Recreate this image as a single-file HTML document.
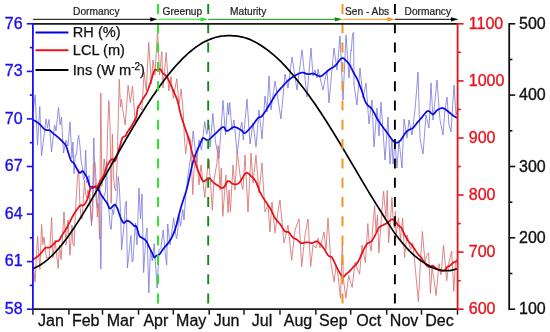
<!DOCTYPE html>
<html><head><meta charset="utf-8"><title>RH LCL Ins</title>
<style>html,body{margin:0;padding:0;background:#fff;width:550px;height:332px;overflow:hidden}svg{display:block}</style>
</head><body>
<svg width="550" height="332" viewBox="0 0 550 332">
<rect width="550" height="332" fill="#fff"/>
<polyline fill="none" stroke="#7676de" stroke-width="0.8" stroke-linejoin="round" points="33.0,112.0 35.2,95.0 37.5,145.0 39.8,106.5 41.5,156.0 44.0,136.0 46.0,119.0 47.5,128.0 49.0,119.5 51.5,152.0 54.6,125.0 56.0,131.0 58.5,107.5 60.0,125.0 61.5,117.0 63.5,153.0 66.0,140.0 68.0,146.0 70.0,122.0 72.0,158.0 72.9,142.0 74.1,173.7 75.2,155.0 76.4,155.0 77.6,141.0 78.7,135.3 79.9,145.5 81.0,159.6 82.2,166.3 83.4,179.5 84.5,178.5 85.7,150.0 86.8,183.1 88.0,177.0 89.2,175.5 90.3,204.9 91.5,225.7 92.6,200.8 93.8,138.0 95.0,180.0 96.1,198.8 97.3,208.2 98.4,197.0 99.6,180.2 100.8,269.0 101.9,197.5 103.1,197.7 104.2,195.9 105.4,191.6 106.6,161.5 107.7,202.2 108.9,209.7 110.0,224.7 111.2,229.4 112.4,209.4 113.5,214.5 114.7,203.7 115.8,205.8 117.0,197.9 118.2,176.7 119.3,186.7 120.5,211.3 121.6,250.0 122.8,237.0 124.0,225.9 125.1,206.7 126.3,201.0 127.4,268.0 128.6,257.3 129.8,246.0 130.9,235.5 132.1,262.0 133.0,261.0 135.3,223.0 137.0,245.0 139.0,188.0 140.5,219.0 142.0,194.0 143.6,272.6 146.0,235.0 147.0,228.0 148.8,292.8 150.5,250.0 152.3,261.0 154.2,243.7 157.1,288.0 159.0,250.0 161.0,247.6 163.2,230.0 165.4,255.0 166.7,264.9 167.7,224.0 170.0,245.0 173.7,217.9 176.4,238.9 177.5,233.7 179.0,215.0 180.5,226.2 182.8,209.6 184.0,220.0 185.8,194.5 188.0,175.0 191.0,155.0 193.2,130.9 196.6,163.2 199.0,140.0 201.5,150.0 204.7,121.4 206.7,134.3 209.0,125.0 210.1,146.9 212.8,113.3 215.5,142.0 218.9,159.1 221.0,130.0 223.0,100.4 225.5,135.0 227.7,103.1 228.7,115.0 229.7,102.5 232.0,130.0 234.0,120.0 237.2,153.7 240.0,130.0 241.9,122.1 243.3,140.0 244.0,132.0 247.0,99.0 250.0,144.0 253.0,123.0 256.0,147.0 259.0,110.0 262.0,139.0 265.0,96.0 267.0,112.0 269.0,76.0 271.0,110.0 275.0,81.0 278.0,100.0 281.0,119.0 285.0,74.0 288.0,88.0 292.0,57.0 297.0,90.0 302.0,50.0 307.0,97.0 311.0,48.0 313.0,76.0 315.0,70.0 317.0,78.0 318.0,69.0 321.0,82.0 323.0,90.0 327.0,70.0 329.0,103.0 331.0,80.0 334.0,48.0 337.0,70.0 340.0,36.0 343.0,100.0 346.0,35.0 349.0,78.0 351.0,50.0 351.3,51.0 352.5,34.0 353.6,32.3 354.0,85.0 357.0,105.0 360.0,68.0 363.0,98.0 366.0,83.0 369.0,124.0 372.0,100.0 374.0,147.0 377.0,108.0 379.0,136.0 381.0,102.0 385.0,160.0 388.0,117.0 390.0,164.0 392.0,140.0 393.0,164.0 395.0,143.0 397.0,168.0 399.0,140.0 402.0,168.0 404.0,119.0 407.0,138.0 409.0,120.0 412.0,135.0 415.0,110.0 418.0,72.0 420.0,138.0 423.0,154.0 426.0,115.0 429.0,128.0 431.0,83.0 433.0,120.0 435.0,100.0 437.0,80.0 440.0,120.0 443.0,135.0 445.0,110.0 447.0,97.0 449.0,125.0 451.0,132.0 454.0,85.0 456.0,115.0 457.5,110.0"/>
<polyline fill="none" stroke="#d87070" stroke-width="0.85" stroke-linejoin="round" points="33.0,262.0 35.1,282.0 37.5,236.0 39.9,269.5 41.6,224.5 42.8,244.6 44.0,237.0 46.4,258.0 49.3,257.0 51.7,217.4 52.9,258.0 55.0,240.0 58.2,268.3 59.5,245.0 61.1,259.5 64.0,212.0 66.0,245.0 68.0,220.0 70.0,255.3 72.0,225.0 72.9,244.2 74.1,246.0 75.2,216.5 76.4,194.6 77.6,176.5 78.7,169.5 79.9,204.3 81.0,218.4 82.2,218.8 83.4,198.8 84.5,180.2 85.7,194.6 86.8,197.8 88.0,189.9 89.2,196.3 90.3,208.6 91.5,222.5 92.6,217.4 93.8,166.0 95.0,162.0 96.1,181.2 97.3,217.1 98.4,203.3 99.6,239.2 100.8,93.0 101.9,186.3 103.1,173.6 104.2,158.9 105.4,169.8 106.6,171.1 107.7,127.5 108.9,100.7 110.0,124.1 111.2,203.3 112.4,134.0 113.5,177.0 114.7,188.4 115.8,190.8 117.0,166.2 118.2,121.3 119.3,79.1 120.5,107.0 121.6,99.4 122.3,107.0 125.2,125.0 128.1,85.3 130.3,102.7 132.5,86.0 135.4,125.0 138.0,106.0 141.9,110.0 144.1,72.2 146.3,91.0 148.7,42.2 151.4,84.0 153.0,60.0 155.0,75.0 157.6,29.0 159.5,75.0 161.8,51.6 163.0,88.0 166.2,52.4 168.8,91.0 171.0,76.5 173.2,98.4 176.8,78.7 179.0,104.2 181.2,88.9 183.4,115.0 184.3,136.5 185.7,153.7 188.0,135.0 190.5,139.5 192.8,194.6 194.0,170.0 196.6,155.0 199.0,185.0 201.0,165.0 204.8,197.6 207.4,170.0 209.0,160.0 212.3,210.3 214.0,180.0 216.9,163.2 218.2,145.5 220.0,190.0 221.3,168.0 222.8,216.4 225.9,175.0 228.1,212.6 229.0,190.0 230.4,211.8 233.0,165.0 235.0,190.0 237.2,151.0 240.0,175.0 242.4,189.3 243.0,189.0 245.0,155.0 248.0,212.0 251.0,153.0 253.0,183.0 256.0,155.0 259.0,193.0 262.0,163.0 265.0,212.0 268.0,205.0 270.0,232.0 272.0,202.0 275.0,233.0 278.0,211.0 280.0,200.0 284.0,243.0 288.0,225.0 291.7,260.3 295.0,230.0 299.0,219.0 301.7,266.7 305.0,235.0 308.0,219.0 310.7,266.7 313.0,245.0 316.0,248.0 318.0,238.0 320.0,248.0 324.0,232.0 326.0,250.0 328.0,218.0 331.0,264.0 334.2,282.0 336.0,265.0 338.0,275.0 340.5,298.2 342.3,245.0 343.5,280.0 345.9,298.2 348.6,275.7 352.2,287.4 355.0,262.0 358.5,272.0 359.6,274.2 362.0,245.0 365.4,262.7 367.8,223.7 369.0,240.0 371.2,251.1 372.5,230.0 374.6,205.6 376.0,232.0 377.5,215.0 378.9,253.0 381.4,217.6 383.6,191.3 385.9,217.6 387.2,190.5 388.6,243.0 390.4,220.6 391.9,197.3 393.5,225.0 394.8,228.0 395.4,211.5 396.0,235.0 398.5,218.0 400.5,240.0 402.7,218.0 404.5,257.5 407.0,235.0 410.4,249.2 412.7,243.3 415.0,265.0 418.4,301.9 420.5,260.0 422.4,231.5 425.0,262.0 427.0,255.0 428.7,252.7 430.4,293.4 432.0,268.0 434.0,280.0 436.1,295.5 439.0,263.7 441.0,275.0 443.5,245.0 446.7,280.7 449.0,262.0 451.7,251.0 453.8,291.3 455.5,262.0 457.5,258.0"/>
<path fill="none" stroke="#0a0ae6" stroke-width="1.75" stroke-linejoin="round" d="M33.0 119.8 L33.7 120.2 L34.6 120.7 L35.6 121.3 L36.8 122.0 L37.9 122.8 L39.0 123.6 L40.0 124.5 L41.1 125.6 L42.1 126.8 L43.1 127.9 L44.1 128.9 L45.0 129.6 L45.8 130.0 L46.6 130.1 L47.4 130.1 L48.1 130.1 L48.9 130.2 L49.6 130.4 L50.4 130.8 L51.1 131.4 L51.9 132.1 L52.6 132.8 L53.3 133.4 L54.1 134.1 L54.9 134.7 L55.6 135.3 L56.4 135.9 L57.2 136.6 L57.9 137.2 L58.7 137.9 L59.5 138.6 L60.3 139.4 L61.1 140.2 L61.8 140.9 L62.5 141.7 L63.2 142.4 L63.8 143.0 L64.3 143.4 L64.7 143.7 L65.1 144.2 L65.6 145.0 L66.2 146.2 L66.9 148.0 L67.6 150.4 L68.4 153.0 L69.2 155.6 L70.0 158.0 L70.7 159.8 L71.3 160.9 L71.8 161.6 L72.3 161.9 L72.8 162.2 L73.3 162.7 L74.0 163.5 L74.8 164.8 L75.7 166.5 L76.7 168.4 L77.6 170.2 L78.5 171.6 L79.3 172.6 L79.9 172.9 L80.5 172.7 L81.0 172.3 L81.4 171.7 L81.9 171.3 L82.3 171.1 L82.7 171.2 L83.1 171.5 L83.5 171.8 L83.8 172.3 L84.2 172.8 L84.6 173.4 L85.1 174.1 L85.5 174.9 L86.0 175.8 L86.6 176.7 L87.0 177.7 L87.5 178.8 L87.9 180.0 L88.3 181.4 L88.7 182.8 L89.0 184.2 L89.4 185.4 L89.8 186.3 L90.2 186.9 L90.6 187.3 L91.1 187.6 L91.5 187.7 L92.0 187.8 L92.5 187.8 L93.0 187.7 L93.6 187.4 L94.1 187.0 L94.7 186.6 L95.3 186.4 L95.8 186.5 L96.3 186.8 L96.8 187.4 L97.4 188.1 L97.9 188.9 L98.4 189.7 L98.9 190.5 L99.4 191.3 L99.9 192.2 L100.3 193.1 L100.8 194.0 L101.4 195.0 L102.0 196.0 L102.7 197.1 L103.6 198.3 L104.5 199.5 L105.4 200.7 L106.3 201.9 L107.0 203.0 L107.6 204.1 L108.1 205.3 L108.5 206.5 L109.0 207.5 L109.4 208.2 L110.0 208.6 L110.7 208.4 L111.4 207.7 L112.2 206.8 L113.1 205.9 L113.8 205.1 L114.5 204.8 L115.1 204.9 L115.6 205.3 L116.1 205.9 L116.5 206.7 L117.0 207.6 L117.5 208.6 L118.0 209.8 L118.5 211.4 L119.0 213.0 L119.6 214.7 L120.1 216.3 L120.6 217.6 L121.1 218.8 L121.6 219.9 L122.1 221.0 L122.6 221.8 L123.1 222.5 L123.6 222.9 L124.2 222.9 L124.8 222.5 L125.4 221.9 L126.0 221.3 L126.7 220.8 L127.3 220.6 L127.9 220.7 L128.6 221.0 L129.2 221.4 L129.9 221.9 L130.5 222.4 L131.1 222.9 L131.7 223.4 L132.2 223.9 L132.7 224.5 L133.2 225.0 L133.6 225.5 L134.1 225.9 L134.5 226.1 L134.9 226.0 L135.3 225.9 L135.6 225.9 L136.0 226.1 L136.4 226.7 L136.9 227.8 L137.3 229.3 L137.9 231.1 L138.4 232.9 L138.9 234.5 L139.4 235.7 L139.9 236.5 L140.4 236.9 L140.9 237.2 L141.3 237.4 L141.9 237.7 L142.4 238.0 L143.0 238.4 L143.6 238.8 L144.3 239.3 L145.0 239.8 L145.6 240.3 L146.2 241.0 L146.7 241.8 L147.2 242.7 L147.6 243.7 L148.1 244.7 L148.5 245.7 L149.0 246.7 L149.5 247.7 L150.0 248.7 L150.6 249.8 L151.1 250.8 L151.6 251.8 L152.1 252.7 L152.5 253.6 L152.9 254.6 L153.3 255.6 L153.6 256.4 L154.0 257.1 L154.3 257.5 L154.6 257.6 L154.8 257.5 L155.1 257.2 L155.3 256.8 L155.6 256.3 L156.0 256.0 L156.5 255.7 L157.1 255.5 L157.7 255.3 L158.4 255.0 L159.0 254.7 L159.6 254.2 L160.1 253.6 L160.6 252.9 L161.0 252.2 L161.5 251.4 L162.0 250.5 L162.6 249.7 L163.3 248.9 L164.0 248.0 L164.7 247.2 L165.5 246.3 L166.3 245.4 L167.1 244.4 L167.9 243.4 L168.7 242.3 L169.4 241.2 L170.2 240.1 L171.0 238.9 L171.7 237.6 L172.4 236.3 L173.0 234.9 L173.6 233.4 L174.2 231.9 L174.8 230.3 L175.4 228.6 L175.9 226.8 L176.5 224.8 L177.0 222.8 L177.5 220.7 L178.0 218.6 L178.5 216.5 L179.0 214.5 L179.6 212.5 L180.1 210.5 L180.7 208.4 L181.3 206.3 L182.0 204.0 L182.7 201.7 L183.5 199.3 L184.3 196.8 L185.2 194.2 L186.1 191.3 L187.0 188.0 L188.0 184.1 L189.0 179.5 L190.1 174.7 L191.1 169.9 L192.1 165.6 L193.0 162.0 L193.8 159.3 L194.5 157.1 L195.1 155.4 L195.7 154.0 L196.4 152.5 L197.0 151.0 L197.7 149.3 L198.4 147.7 L199.1 146.1 L199.8 144.6 L200.4 143.2 L201.0 142.0 L201.4 141.0 L201.7 140.1 L201.9 139.3 L202.2 138.7 L202.5 138.3 L203.0 138.0 L203.6 138.1 L204.4 138.5 L205.2 139.1 L206.1 139.7 L207.0 140.1 L208.0 140.0 L209.0 139.5 L210.1 138.6 L211.3 137.6 L212.5 136.4 L213.8 135.2 L215.0 134.0 L216.3 132.8 L217.7 131.3 L219.2 129.9 L220.6 128.6 L221.9 127.5 L223.0 127.0 L223.9 127.1 L224.5 127.8 L225.1 128.8 L225.6 129.9 L226.2 130.7 L227.0 131.0 L228.0 130.7 L229.1 130.0 L230.3 129.1 L231.6 128.1 L232.8 127.4 L234.0 127.0 L235.2 127.1 L236.4 127.5 L237.7 128.1 L238.9 128.7 L240.0 129.4 L241.0 130.0 L241.8 130.6 L242.4 131.4 L243.0 132.1 L243.6 132.7 L244.2 133.1 L245.0 133.0 L246.0 132.4 L247.1 131.4 L248.4 130.2 L249.6 128.8 L250.9 127.3 L252.0 126.0 L253.1 124.7 L254.1 123.2 L255.2 121.7 L256.2 120.3 L257.1 119.0 L258.0 118.0 L258.7 117.4 L259.3 117.3 L259.9 117.2 L260.4 117.2 L261.1 116.8 L262.0 116.0 L263.1 114.6 L264.4 112.7 L265.9 110.5 L267.3 108.2 L268.7 106.0 L270.0 104.0 L271.1 102.2 L272.1 100.4 L273.1 98.7 L274.1 97.0 L275.0 95.5 L276.0 94.0 L277.0 92.7 L277.9 91.5 L278.9 90.4 L279.9 89.3 L280.9 88.2 L282.0 87.0 L283.2 85.7 L284.4 84.3 L285.7 83.0 L287.0 81.6 L288.5 80.2 L290.0 79.0 L291.7 77.8 L293.6 76.5 L295.6 75.3 L297.5 74.2 L299.4 73.3 L301.0 72.7 L302.4 72.5 L303.7 72.7 L304.8 73.1 L305.9 73.6 L307.0 74.0 L308.0 74.2 L309.0 74.2 L309.9 74.0 L310.8 73.8 L311.7 73.6 L312.6 73.5 L313.6 73.6 L314.6 73.9 L315.7 74.5 L316.9 75.1 L318.0 75.8 L319.0 76.2 L320.0 76.4 L320.8 76.3 L321.6 75.9 L322.3 75.5 L323.0 74.9 L323.7 74.2 L324.5 73.6 L325.4 72.9 L326.3 72.2 L327.2 71.3 L328.1 70.5 L329.1 69.7 L330.0 69.0 L330.9 68.4 L331.8 67.9 L332.7 67.4 L333.6 66.9 L334.5 66.3 L335.5 65.5 L336.5 64.4 L337.6 63.0 L338.7 61.5 L339.8 60.0 L340.8 58.9 L341.8 58.2 L342.7 58.1 L343.5 58.3 L344.3 58.9 L345.0 59.6 L345.7 60.3 L346.4 61.0 L347.1 61.6 L347.7 62.3 L348.3 63.0 L348.9 63.8 L349.4 64.6 L350.0 65.5 L350.6 66.5 L351.1 67.6 L351.7 68.7 L352.2 69.9 L352.8 71.1 L353.4 72.3 L354.1 73.5 L354.7 74.7 L355.5 75.9 L356.2 77.2 L356.9 78.5 L357.6 80.0 L358.3 81.6 L359.0 83.2 L359.6 85.0 L360.3 86.7 L361.0 88.6 L361.7 90.5 L362.4 92.5 L363.1 94.7 L363.7 97.0 L364.4 99.2 L365.2 101.3 L366.0 103.0 L366.9 104.3 L367.9 105.4 L368.9 106.2 L369.9 107.0 L371.0 108.0 L372.0 109.3 L373.0 110.9 L374.1 112.7 L375.1 114.7 L376.2 116.8 L377.3 118.8 L378.5 120.8 L379.8 122.8 L381.2 124.7 L382.7 126.7 L384.1 128.7 L385.5 130.6 L386.8 132.3 L388.0 134.0 L389.1 135.6 L390.2 137.1 L391.2 138.5 L392.2 139.7 L393.0 140.7 L393.7 141.5 L394.2 142.0 L394.6 142.4 L395.0 142.7 L395.5 142.8 L396.0 142.8 L396.6 142.7 L397.3 142.6 L398.1 142.3 L398.8 141.9 L399.6 141.3 L400.4 140.5 L401.3 139.4 L402.2 138.0 L403.1 136.5 L404.1 134.9 L405.0 133.5 L405.8 132.4 L406.5 131.6 L407.1 131.1 L407.7 130.7 L408.3 130.3 L408.8 130.0 L409.4 129.7 L410.0 129.4 L410.6 129.1 L411.2 128.9 L411.8 128.7 L412.4 128.3 L413.0 127.9 L413.6 127.3 L414.2 126.7 L414.7 125.9 L415.3 125.1 L416.0 124.3 L416.7 123.4 L417.5 122.4 L418.4 121.4 L419.4 120.3 L420.3 119.2 L421.2 118.1 L422.1 117.1 L422.9 116.1 L423.7 115.0 L424.5 114.0 L425.3 113.1 L426.0 112.3 L426.6 111.7 L427.1 111.3 L427.6 111.1 L428.0 111.0 L428.4 111.0 L428.8 111.1 L429.3 111.3 L429.8 111.7 L430.4 112.3 L431.0 113.0 L431.7 113.7 L432.3 114.2 L432.9 114.4 L433.5 114.2 L434.1 113.6 L434.8 112.9 L435.4 112.1 L436.0 111.4 L436.5 110.8 L437.0 110.4 L437.4 110.0 L437.8 109.7 L438.3 109.5 L438.7 109.2 L439.2 109.0 L439.7 108.8 L440.3 108.5 L440.9 108.3 L441.5 108.1 L442.1 108.0 L442.8 108.1 L443.5 108.3 L444.2 108.7 L444.9 109.1 L445.7 109.6 L446.5 110.2 L447.3 110.8 L448.2 111.5 L449.1 112.2 L450.0 113.0 L451.0 113.9 L451.9 114.6 L452.8 115.3 L453.7 115.9 L454.6 116.4 L455.5 116.9 L456.3 117.4 L457.0 117.7 L457.5 118.0"/>
<path fill="none" stroke="#e8101a" stroke-width="1.75" stroke-linejoin="round" d="M33.0 259.4 L33.4 259.2 L33.9 258.9 L34.5 258.6 L35.1 258.2 L35.8 257.8 L36.5 257.3 L37.2 256.8 L37.9 256.2 L38.6 255.6 L39.4 254.9 L40.2 254.2 L40.9 253.4 L41.6 252.5 L42.4 251.5 L43.1 250.5 L43.8 249.5 L44.6 248.6 L45.3 248.0 L46.0 247.6 L46.8 247.5 L47.6 247.5 L48.3 247.6 L49.0 247.6 L49.6 247.5 L50.1 247.3 L50.4 247.1 L50.7 246.9 L51.0 246.6 L51.3 246.2 L51.8 245.8 L52.4 245.2 L53.2 244.4 L54.0 243.6 L54.8 242.8 L55.6 242.0 L56.2 241.5 L56.7 241.2 L57.1 241.1 L57.4 241.1 L57.8 241.1 L58.1 241.1 L58.4 240.9 L58.8 240.6 L59.1 240.1 L59.5 239.6 L59.9 239.1 L60.2 238.6 L60.5 238.2 L60.7 237.9 L60.8 237.7 L60.8 237.5 L60.9 237.2 L61.2 236.8 L61.6 236.0 L62.3 234.9 L63.1 233.6 L64.1 232.0 L65.2 230.4 L66.2 228.7 L67.2 227.0 L68.1 225.3 L69.0 223.4 L70.0 221.6 L70.9 219.7 L71.8 217.9 L72.7 216.2 L73.6 214.6 L74.6 213.1 L75.6 211.6 L76.5 210.2 L77.4 209.0 L78.1 208.0 L78.7 207.2 L79.2 206.6 L79.6 206.1 L80.0 205.8 L80.4 205.5 L80.8 205.3 L81.2 205.2 L81.7 205.3 L82.1 205.5 L82.5 205.6 L83.0 205.6 L83.5 205.3 L84.1 204.8 L84.7 204.0 L85.3 203.2 L85.9 202.2 L86.5 201.1 L87.1 199.9 L87.6 198.5 L88.1 196.9 L88.6 195.2 L89.0 193.6 L89.4 192.1 L89.8 190.8 L90.1 189.8 L90.4 189.0 L90.6 188.4 L90.8 187.8 L91.0 187.4 L91.3 187.0 L91.6 186.7 L92.0 186.6 L92.3 186.6 L92.7 186.6 L93.1 186.7 L93.5 186.7 L93.9 186.8 L94.4 187.0 L94.8 187.2 L95.3 187.3 L95.7 187.3 L96.2 187.2 L96.7 186.8 L97.1 186.3 L97.6 185.7 L98.1 185.0 L98.5 184.2 L98.9 183.6 L99.2 183.0 L99.5 182.5 L99.8 181.9 L100.0 181.3 L100.3 180.7 L100.7 180.0 L101.2 179.3 L101.7 178.5 L102.3 177.7 L102.9 176.9 L103.5 176.0 L104.0 175.0 L104.4 173.9 L104.7 172.8 L105.0 171.6 L105.2 170.4 L105.6 169.2 L106.0 168.0 L106.6 166.8 L107.2 165.5 L108.0 164.2 L108.7 163.0 L109.4 161.9 L110.0 161.0 L110.5 160.3 L111.0 159.8 L111.4 159.4 L111.7 159.2 L112.1 159.0 L112.5 159.0 L112.9 159.3 L113.3 159.8 L113.6 160.5 L114.0 161.2 L114.4 161.5 L114.8 161.3 L115.3 160.5 L115.8 159.3 L116.3 157.9 L116.8 156.2 L117.3 154.5 L117.8 153.0 L118.3 151.5 L118.7 150.0 L119.2 148.4 L119.7 146.8 L120.1 145.4 L120.5 144.0 L120.9 142.7 L121.2 141.5 L121.5 140.3 L121.9 139.2 L122.2 138.3 L122.6 137.5 L123.1 137.0 L123.6 136.7 L124.1 136.5 L124.6 136.3 L125.1 136.1 L125.6 135.7 L126.0 135.1 L126.4 134.4 L126.7 133.7 L127.0 132.9 L127.4 132.1 L127.9 131.2 L128.5 130.4 L129.1 129.5 L129.7 128.6 L130.4 127.7 L131.1 126.6 L131.8 125.5 L132.5 124.3 L133.3 122.9 L134.1 121.5 L134.9 120.0 L135.6 118.5 L136.2 117.0 L136.6 115.5 L136.9 113.9 L137.1 112.2 L137.3 110.6 L137.5 109.2 L137.8 108.0 L138.1 107.1 L138.5 106.3 L138.8 105.8 L139.2 105.2 L139.6 104.7 L140.0 104.0 L140.4 103.2 L140.9 102.4 L141.4 101.5 L141.9 100.6 L142.4 99.6 L143.0 98.7 L143.6 97.8 L144.2 96.9 L144.8 96.0 L145.5 95.1 L146.2 94.0 L146.8 92.7 L147.4 91.2 L148.1 89.5 L148.7 87.7 L149.3 85.9 L150.0 84.0 L150.6 82.1 L151.2 80.1 L151.9 78.0 L152.5 75.8 L153.1 73.8 L153.7 72.1 L154.3 70.8 L154.8 70.1 L155.3 69.8 L155.8 69.8 L156.3 69.9 L156.8 70.1 L157.3 70.1 L157.8 69.9 L158.4 69.7 L158.9 69.4 L159.4 69.2 L159.9 69.2 L160.4 69.3 L160.8 69.7 L161.1 70.3 L161.5 71.0 L161.8 71.7 L162.2 72.5 L162.6 73.1 L163.1 73.6 L163.7 73.9 L164.4 74.3 L165.0 74.7 L165.7 75.3 L166.4 76.1 L167.1 77.3 L167.9 78.7 L168.7 80.3 L169.5 81.9 L170.2 83.5 L170.9 85.0 L171.5 86.3 L172.0 87.5 L172.5 88.6 L173.0 89.7 L173.5 90.9 L174.0 92.2 L174.6 93.6 L175.2 94.9 L175.8 96.4 L176.4 97.9 L177.0 99.5 L177.6 101.3 L178.1 103.3 L178.7 105.5 L179.2 107.8 L179.7 110.2 L180.2 112.5 L180.8 114.8 L181.4 117.0 L182.1 119.3 L182.9 121.5 L183.6 123.7 L184.3 125.9 L185.0 128.0 L185.7 130.1 L186.4 132.1 L187.1 134.1 L187.7 136.0 L188.4 138.0 L189.0 140.0 L189.6 142.0 L190.1 144.1 L190.6 146.1 L191.0 148.1 L191.5 150.1 L192.0 152.0 L192.5 153.8 L193.0 155.4 L193.4 157.1 L193.9 158.7 L194.4 160.3 L195.0 162.0 L195.6 163.8 L196.3 165.7 L196.9 167.6 L197.6 169.5 L198.3 171.3 L199.0 173.0 L199.7 174.6 L200.4 176.2 L201.1 177.8 L201.7 179.1 L202.4 180.2 L203.0 181.0 L203.6 181.4 L204.1 181.4 L204.6 181.1 L205.0 180.7 L205.5 180.3 L206.0 180.0 L206.5 179.7 L207.0 179.2 L207.4 178.7 L207.9 178.3 L208.4 178.0 L209.0 178.0 L209.6 178.3 L210.3 178.9 L210.9 179.7 L211.6 180.5 L212.3 181.3 L213.0 182.0 L213.6 182.6 L214.3 183.1 L214.9 183.6 L215.5 184.0 L216.2 184.5 L217.0 185.0 L217.9 185.6 L218.9 186.4 L219.9 187.1 L221.0 187.7 L222.0 188.1 L223.0 188.0 L223.9 187.3 L224.7 186.0 L225.6 184.5 L226.4 183.0 L227.2 181.7 L228.0 181.0 L228.8 181.0 L229.6 181.4 L230.4 182.1 L231.3 182.9 L232.1 183.6 L233.0 184.0 L233.9 184.2 L234.9 184.3 L235.9 184.3 L236.9 184.1 L237.9 183.7 L239.0 183.0 L240.1 181.7 L241.3 179.8 L242.5 177.7 L243.7 175.6 L244.9 174.0 L246.0 173.0 L247.1 172.8 L248.1 173.3 L249.2 174.1 L250.2 175.1 L251.1 176.1 L252.0 177.0 L252.8 177.7 L253.5 178.4 L254.1 179.1 L254.7 179.9 L255.4 180.9 L256.0 182.0 L256.7 183.4 L257.3 185.1 L258.0 186.9 L258.7 188.7 L259.3 190.4 L260.0 192.0 L260.6 193.3 L261.3 194.5 L261.9 195.6 L262.5 196.6 L263.2 197.8 L264.0 199.0 L264.9 200.4 L265.9 201.8 L266.9 203.3 L268.0 204.9 L269.0 206.4 L270.0 208.0 L270.9 209.7 L271.7 211.4 L272.6 213.2 L273.4 214.9 L274.2 216.6 L275.0 218.0 L275.8 219.2 L276.7 220.2 L277.5 221.2 L278.3 222.1 L279.2 223.0 L280.0 224.0 L280.8 225.2 L281.7 226.6 L282.6 228.0 L283.4 229.3 L284.2 230.4 L285.0 231.3 L285.7 231.8 L286.3 231.9 L286.8 231.9 L287.4 231.8 L288.0 231.9 L288.6 232.2 L289.3 232.9 L290.1 233.8 L290.8 234.9 L291.6 236.0 L292.4 236.9 L293.1 237.7 L293.8 238.2 L294.4 238.5 L295.0 238.7 L295.5 238.9 L296.1 239.1 L296.8 239.5 L297.5 240.0 L298.2 240.7 L298.9 241.5 L299.7 242.2 L300.5 242.7 L301.3 243.1 L302.1 243.2 L303.0 243.1 L303.9 242.8 L304.9 242.5 L305.8 242.3 L306.7 242.2 L307.6 242.3 L308.5 242.5 L309.5 242.7 L310.4 242.9 L311.3 243.1 L312.1 243.1 L312.9 242.9 L313.7 242.5 L314.5 242.1 L315.2 241.7 L315.9 241.4 L316.6 241.3 L317.3 241.5 L317.9 241.8 L318.5 242.3 L319.1 242.8 L319.7 243.4 L320.3 244.0 L320.9 244.6 L321.5 245.3 L322.1 246.0 L322.6 246.7 L323.2 247.6 L323.9 248.5 L324.6 249.6 L325.4 250.9 L326.1 252.3 L326.9 253.6 L327.7 254.8 L328.4 255.7 L329.0 256.2 L329.6 256.4 L330.2 256.5 L330.8 256.6 L331.4 256.8 L332.0 257.5 L332.7 258.6 L333.5 260.1 L334.2 261.7 L335.0 263.4 L335.8 265.1 L336.5 266.6 L337.2 268.0 L337.9 269.4 L338.6 270.7 L339.3 271.9 L339.9 273.0 L340.5 274.0 L341.0 274.8 L341.5 275.6 L341.9 276.2 L342.3 276.7 L342.7 277.0 L343.1 277.1 L343.5 277.0 L344.0 276.6 L344.4 276.1 L344.9 275.5 L345.3 274.9 L345.8 274.4 L346.3 274.0 L346.7 273.6 L347.2 273.2 L347.7 272.9 L348.1 272.5 L348.6 272.1 L349.1 271.7 L349.5 271.2 L350.0 270.8 L350.4 270.3 L350.9 269.9 L351.3 269.4 L351.7 268.9 L352.1 268.5 L352.4 268.0 L352.8 267.5 L353.1 267.1 L353.5 266.7 L353.9 266.4 L354.2 266.1 L354.6 265.9 L355.0 265.6 L355.4 265.3 L355.8 264.9 L356.2 264.4 L356.7 263.7 L357.2 263.0 L357.6 262.3 L358.1 261.5 L358.5 260.8 L358.9 260.1 L359.3 259.4 L359.6 258.6 L360.0 257.9 L360.3 257.1 L360.7 256.3 L361.1 255.5 L361.4 254.6 L361.7 253.8 L362.1 252.9 L362.5 251.9 L363.0 250.9 L363.6 249.8 L364.2 248.5 L364.9 247.2 L365.6 246.0 L366.4 244.8 L367.1 243.9 L367.8 243.2 L368.6 242.8 L369.4 242.5 L370.1 242.2 L370.9 241.8 L371.6 241.2 L372.3 240.4 L372.9 239.4 L373.5 238.3 L374.1 237.2 L374.7 236.0 L375.3 234.9 L375.9 233.7 L376.5 232.4 L377.1 231.1 L377.6 229.8 L378.2 228.7 L378.9 227.7 L379.6 227.0 L380.4 226.4 L381.1 226.0 L381.9 225.6 L382.7 225.3 L383.4 224.9 L384.0 224.6 L384.6 224.3 L385.2 224.1 L385.8 223.8 L386.4 223.5 L387.0 223.1 L387.7 222.6 L388.5 221.9 L389.3 221.1 L390.1 220.4 L390.8 219.9 L391.5 219.5 L392.0 219.3 L392.5 219.3 L392.9 219.4 L393.3 219.7 L393.7 220.0 L394.2 220.4 L394.8 221.0 L395.4 221.7 L396.0 222.5 L396.6 223.4 L397.3 224.2 L397.9 224.9 L398.5 225.5 L399.2 226.0 L399.8 226.4 L400.4 226.9 L401.0 227.4 L401.6 228.1 L402.1 228.9 L402.5 229.8 L402.9 230.8 L403.3 231.8 L403.8 232.9 L404.3 234.0 L404.9 235.2 L405.7 236.5 L406.4 237.9 L407.2 239.3 L407.9 240.5 L408.6 241.5 L409.2 242.3 L409.7 242.8 L410.2 243.2 L410.6 243.6 L411.1 244.1 L411.6 244.6 L412.1 245.3 L412.6 246.0 L413.1 246.7 L413.6 247.5 L414.1 248.2 L414.6 249.0 L415.1 249.8 L415.6 250.6 L416.1 251.4 L416.6 252.1 L417.1 252.9 L417.6 253.6 L418.1 254.2 L418.6 254.8 L419.1 255.3 L419.6 255.9 L420.1 256.4 L420.6 257.0 L421.1 257.6 L421.6 258.3 L422.1 259.0 L422.6 259.7 L423.1 260.4 L423.6 261.1 L424.1 261.8 L424.6 262.7 L425.1 263.5 L425.6 264.2 L426.1 264.9 L426.6 265.5 L427.1 266.0 L427.6 266.3 L428.1 266.6 L428.6 266.8 L429.1 266.9 L429.6 267.0 L430.1 266.9 L430.6 266.6 L431.2 266.3 L431.7 266.0 L432.2 265.7 L432.7 265.7 L433.2 265.9 L433.7 266.2 L434.2 266.6 L434.7 267.0 L435.2 267.5 L435.7 267.9 L436.2 268.3 L436.7 268.7 L437.2 269.0 L437.7 269.4 L438.2 269.7 L438.7 270.0 L439.2 270.2 L439.7 270.4 L440.2 270.6 L440.7 270.8 L441.2 270.9 L441.7 270.9 L442.2 270.9 L442.7 270.9 L443.2 270.8 L443.7 270.7 L444.2 270.5 L444.7 270.2 L445.2 269.7 L445.7 269.1 L446.2 268.5 L446.6 267.8 L447.1 267.2 L447.5 266.7 L447.9 266.4 L448.2 266.3 L448.5 266.3 L448.8 266.3 L449.2 266.2 L449.6 265.9 L450.1 265.5 L450.8 264.9 L451.4 264.2 L452.1 263.6 L452.8 263.0 L453.5 262.5 L454.2 262.1 L454.9 261.8 L455.7 261.5 L456.4 261.3 L457.0 261.1 L457.4 261.0"/>
<path fill="none" stroke="#000" stroke-width="1.7" stroke-linejoin="round" d="M33.0 268.6 L35.0 267.8 L37.0 266.8 L39.0 265.7 L41.0 264.5 L43.0 263.1 L45.0 261.7 L47.0 260.1 L49.0 258.4 L51.0 256.5 L53.0 254.6 L55.0 252.5 L57.0 250.3 L59.0 248.0 L61.0 245.7 L63.0 243.2 L65.0 240.6 L67.0 237.9 L69.0 235.2 L71.0 232.3 L73.0 229.4 L75.0 226.4 L77.0 223.4 L79.0 220.3 L81.0 217.1 L83.0 213.9 L85.0 210.6 L87.0 207.3 L89.0 204.0 L91.0 200.6 L93.0 197.1 L95.0 193.7 L97.0 190.2 L99.0 186.7 L101.0 183.2 L103.0 179.7 L105.0 176.2 L107.0 172.6 L109.0 169.1 L111.0 165.6 L113.0 162.0 L115.0 158.5 L117.0 155.0 L119.0 151.5 L121.0 148.0 L123.0 144.5 L125.0 141.0 L127.0 137.6 L129.0 134.2 L131.0 130.8 L133.0 127.4 L135.0 124.1 L137.0 120.8 L139.0 117.5 L141.0 114.3 L143.0 111.1 L145.0 108.0 L147.0 104.9 L149.0 101.8 L151.0 98.8 L153.0 95.8 L155.0 92.9 L157.0 90.0 L159.0 87.2 L161.0 84.4 L163.0 81.7 L165.0 79.0 L167.0 76.5 L169.0 73.9 L171.0 71.5 L173.0 69.1 L175.0 66.8 L177.0 64.5 L179.0 62.4 L181.0 60.3 L183.0 58.2 L185.0 56.3 L187.0 54.4 L189.0 52.7 L191.0 51.0 L193.0 49.4 L195.0 47.8 L197.0 46.4 L199.0 45.1 L201.0 43.8 L203.0 42.6 L205.0 41.5 L207.0 40.6 L209.0 39.7 L211.0 38.9 L213.0 38.2 L215.0 37.5 L217.0 37.0 L219.0 36.6 L221.0 36.2 L223.0 36.0 L225.0 35.8 L227.0 35.7 L229.0 35.7 L231.0 35.7 L233.0 35.8 L235.0 35.9 L237.0 36.1 L239.0 36.4 L241.0 36.8 L243.0 37.2 L245.0 37.8 L247.0 38.4 L249.0 39.1 L251.0 39.9 L253.0 40.9 L255.0 41.9 L257.0 43.0 L259.0 44.2 L261.0 45.5 L263.0 46.8 L265.0 48.2 L267.0 49.6 L269.0 51.2 L271.0 52.8 L273.0 54.4 L275.0 56.1 L277.0 57.9 L279.0 59.8 L281.0 61.7 L283.0 63.8 L285.0 65.9 L287.0 68.1 L289.0 70.4 L291.0 72.7 L293.0 75.0 L295.0 77.5 L297.0 79.9 L299.0 82.5 L301.0 85.0 L303.0 87.6 L305.0 90.2 L307.0 92.9 L309.0 95.6 L311.0 98.4 L313.0 101.2 L315.0 104.1 L317.0 107.0 L319.0 110.0 L321.0 113.0 L323.0 116.1 L325.0 119.2 L327.0 122.3 L329.0 125.5 L331.0 128.7 L333.0 131.9 L335.0 135.2 L337.0 138.5 L339.0 141.8 L341.0 145.1 L343.0 148.5 L345.0 151.9 L347.0 155.2 L349.0 158.6 L351.0 162.0 L353.0 165.4 L355.0 168.8 L357.0 172.2 L359.0 175.6 L361.0 179.0 L363.0 182.4 L365.0 185.7 L367.0 189.1 L369.0 192.4 L371.0 195.7 L373.0 198.9 L375.0 202.2 L377.0 205.4 L379.0 208.5 L381.0 211.7 L383.0 215.0 L385.0 218.2 L387.0 221.4 L389.0 224.5 L391.0 227.6 L393.0 230.6 L395.0 233.6 L397.0 236.2 L399.0 238.8 L401.0 241.2 L403.0 243.7 L405.0 246.0 L407.0 248.2 L409.0 250.4 L411.0 252.4 L413.0 254.3 L415.0 256.1 L417.0 257.7 L419.0 259.3 L421.0 260.8 L423.0 262.1 L425.0 263.3 L427.0 264.6 L429.0 265.8 L431.0 266.9 L433.0 267.8 L435.0 268.6 L437.0 269.2 L439.0 269.8 L441.0 270.2 L443.0 270.5 L445.0 270.7 L447.0 270.7 L449.0 270.6 L451.0 270.3 L453.0 269.9 L455.0 269.4 L457.0 268.8 L457.5 268.6"/>
<line x1="158.0" y1="4" x2="158.0" y2="309" stroke="#22e622" stroke-width="1.9" stroke-dasharray="10 9.3"/>
<line x1="208.2" y1="4" x2="208.2" y2="309" stroke="#138a13" stroke-width="1.9" stroke-dasharray="10 9.3"/>
<line x1="342.5" y1="4" x2="342.5" y2="309" stroke="#f5901e" stroke-width="1.9" stroke-dasharray="10 9.3"/>
<line x1="394.9" y1="4" x2="394.9" y2="309" stroke="#000" stroke-width="1.9" stroke-dasharray="10 9.3"/>
<line x1="32.9" y1="19.3" x2="152.7" y2="19.3" stroke="#000" stroke-width="1"/>
<polygon points="157.7,19.3 150.2,17.2 150.2,21.4" fill="#000"/>
<line x1="158.0" y1="19.3" x2="203.0" y2="19.3" stroke="#22e622" stroke-width="1"/>
<polygon points="208.0,19.3 200.5,17.2 200.5,21.4" fill="#22e622"/>
<line x1="208.2" y1="19.3" x2="337.3" y2="19.3" stroke="#138a13" stroke-width="1"/>
<polygon points="342.3,19.3 334.8,17.2 334.8,21.4" fill="#138a13"/>
<line x1="342.5" y1="19.3" x2="389.9" y2="19.3" stroke="#f5901e" stroke-width="1"/>
<polygon points="394.9,19.3 387.4,17.2 387.4,21.4" fill="#f5901e"/>
<line x1="394.9" y1="19.3" x2="453.5" y2="19.3" stroke="#000" stroke-width="1"/>
<polygon points="458.5,19.3 451.0,17.2 451.0,21.4" fill="#000"/>
<text x="73.1" y="15.2" font-size="10.2" fill="#1a1a1a" stroke="#1a1a1a" stroke-width="0.2" font-family="'Liberation Sans', sans-serif">Dormancy</text>
<text x="162.5" y="15.2" font-size="10.2" fill="#1a1a1a" stroke="#1a1a1a" stroke-width="0.2" font-family="'Liberation Sans', sans-serif">Greenup</text>
<text x="230.0" y="15.2" font-size="10.2" fill="#1a1a1a" stroke="#1a1a1a" stroke-width="0.2" font-family="'Liberation Sans', sans-serif">Maturity</text>
<text x="345.0" y="15.2" font-size="10.2" fill="#1a1a1a" stroke="#1a1a1a" stroke-width="0.2" font-family="'Liberation Sans', sans-serif">Sen - Abs</text>
<text x="404.6" y="15.2" font-size="10.2" fill="#1a1a1a" stroke="#1a1a1a" stroke-width="0.2" font-family="'Liberation Sans', sans-serif">Dormancy</text>
<line x1="32.9" y1="23.8" x2="457.6" y2="23.8" stroke="#1a1a1a" stroke-width="1.8"/>
<line x1="32.9" y1="309.2" x2="457.6" y2="309.2" stroke="#1a1a1a" stroke-width="1.8"/>
<line x1="32.9" y1="309.2" x2="32.9" y2="314.7" stroke="#1a1a1a" stroke-width="1.5"/>
<text x="50.9" y="326" font-size="16" text-anchor="middle" fill="#111" stroke="#111" stroke-width="0.3" font-family="'Liberation Sans', sans-serif">Jan</text>
<line x1="68.9" y1="309.2" x2="68.9" y2="314.7" stroke="#1a1a1a" stroke-width="1.5"/>
<text x="85.7" y="326" font-size="16" text-anchor="middle" fill="#111" stroke="#111" stroke-width="0.3" font-family="'Liberation Sans', sans-serif">Feb</text>
<line x1="102.5" y1="309.2" x2="102.5" y2="314.7" stroke="#1a1a1a" stroke-width="1.5"/>
<text x="120.5" y="326" font-size="16" text-anchor="middle" fill="#111" stroke="#111" stroke-width="0.3" font-family="'Liberation Sans', sans-serif">Mar</text>
<line x1="138.5" y1="309.2" x2="138.5" y2="314.7" stroke="#1a1a1a" stroke-width="1.5"/>
<text x="155.9" y="326" font-size="16" text-anchor="middle" fill="#111" stroke="#111" stroke-width="0.3" font-family="'Liberation Sans', sans-serif">Apr</text>
<line x1="173.3" y1="309.2" x2="173.3" y2="314.7" stroke="#1a1a1a" stroke-width="1.5"/>
<text x="191.2" y="326" font-size="16" text-anchor="middle" fill="#111" stroke="#111" stroke-width="0.3" font-family="'Liberation Sans', sans-serif">May</text>
<line x1="209.2" y1="309.2" x2="209.2" y2="314.7" stroke="#1a1a1a" stroke-width="1.5"/>
<text x="226.6" y="326" font-size="16" text-anchor="middle" fill="#111" stroke="#111" stroke-width="0.3" font-family="'Liberation Sans', sans-serif">Jun</text>
<line x1="244.0" y1="309.2" x2="244.0" y2="314.7" stroke="#1a1a1a" stroke-width="1.5"/>
<text x="262.0" y="326" font-size="16" text-anchor="middle" fill="#111" stroke="#111" stroke-width="0.3" font-family="'Liberation Sans', sans-serif">Jul</text>
<line x1="280.0" y1="309.2" x2="280.0" y2="314.7" stroke="#1a1a1a" stroke-width="1.5"/>
<text x="298.0" y="326" font-size="16" text-anchor="middle" fill="#111" stroke="#111" stroke-width="0.3" font-family="'Liberation Sans', sans-serif">Aug</text>
<line x1="315.9" y1="309.2" x2="315.9" y2="314.7" stroke="#1a1a1a" stroke-width="1.5"/>
<text x="333.3" y="326" font-size="16" text-anchor="middle" fill="#111" stroke="#111" stroke-width="0.3" font-family="'Liberation Sans', sans-serif">Sep</text>
<line x1="350.7" y1="309.2" x2="350.7" y2="314.7" stroke="#1a1a1a" stroke-width="1.5"/>
<text x="368.7" y="326" font-size="16" text-anchor="middle" fill="#111" stroke="#111" stroke-width="0.3" font-family="'Liberation Sans', sans-serif">Oct</text>
<line x1="386.7" y1="309.2" x2="386.7" y2="314.7" stroke="#1a1a1a" stroke-width="1.5"/>
<text x="404.1" y="326" font-size="16" text-anchor="middle" fill="#111" stroke="#111" stroke-width="0.3" font-family="'Liberation Sans', sans-serif">Nov</text>
<line x1="421.5" y1="309.2" x2="421.5" y2="314.7" stroke="#1a1a1a" stroke-width="1.5"/>
<text x="439.5" y="326" font-size="16" text-anchor="middle" fill="#111" stroke="#111" stroke-width="0.3" font-family="'Liberation Sans', sans-serif">Dec</text>
<line x1="457.5" y1="309.2" x2="457.5" y2="314.7" stroke="#1a1a1a" stroke-width="1.5"/>
<line x1="32.9" y1="22.9" x2="32.9" y2="310.1" stroke="#1c10f0" stroke-width="1.8"/>
<line x1="26.8" y1="23.8" x2="33" y2="23.8" stroke="#1c10f0" stroke-width="1.6"/>
<text x="22.6" y="28.6" font-size="16" text-anchor="end" fill="#1c10f0" stroke="#1c10f0" stroke-width="0.35" font-family="'Liberation Sans', sans-serif">76</text>
<line x1="29.8" y1="47.6" x2="33" y2="47.6" stroke="#1c10f0" stroke-width="1.6"/>
<line x1="26.8" y1="71.4" x2="33" y2="71.4" stroke="#1c10f0" stroke-width="1.6"/>
<text x="22.6" y="76.2" font-size="16" text-anchor="end" fill="#1c10f0" stroke="#1c10f0" stroke-width="0.35" font-family="'Liberation Sans', sans-serif">73</text>
<line x1="29.8" y1="95.1" x2="33" y2="95.1" stroke="#1c10f0" stroke-width="1.6"/>
<line x1="26.8" y1="118.9" x2="33" y2="118.9" stroke="#1c10f0" stroke-width="1.6"/>
<text x="22.6" y="123.7" font-size="16" text-anchor="end" fill="#1c10f0" stroke="#1c10f0" stroke-width="0.35" font-family="'Liberation Sans', sans-serif">70</text>
<line x1="29.8" y1="142.7" x2="33" y2="142.7" stroke="#1c10f0" stroke-width="1.6"/>
<line x1="26.8" y1="166.5" x2="33" y2="166.5" stroke="#1c10f0" stroke-width="1.6"/>
<text x="22.6" y="171.3" font-size="16" text-anchor="end" fill="#1c10f0" stroke="#1c10f0" stroke-width="0.35" font-family="'Liberation Sans', sans-serif">67</text>
<line x1="29.8" y1="190.3" x2="33" y2="190.3" stroke="#1c10f0" stroke-width="1.6"/>
<line x1="26.8" y1="214.1" x2="33" y2="214.1" stroke="#1c10f0" stroke-width="1.6"/>
<text x="22.6" y="218.9" font-size="16" text-anchor="end" fill="#1c10f0" stroke="#1c10f0" stroke-width="0.35" font-family="'Liberation Sans', sans-serif">64</text>
<line x1="29.8" y1="237.8" x2="33" y2="237.8" stroke="#1c10f0" stroke-width="1.6"/>
<line x1="26.8" y1="261.6" x2="33" y2="261.6" stroke="#1c10f0" stroke-width="1.6"/>
<text x="22.6" y="266.4" font-size="16" text-anchor="end" fill="#1c10f0" stroke="#1c10f0" stroke-width="0.35" font-family="'Liberation Sans', sans-serif">61</text>
<line x1="29.8" y1="285.4" x2="33" y2="285.4" stroke="#1c10f0" stroke-width="1.6"/>
<line x1="26.8" y1="309.2" x2="33" y2="309.2" stroke="#1c10f0" stroke-width="1.6"/>
<text x="22.6" y="314.0" font-size="16" text-anchor="end" fill="#1c10f0" stroke="#1c10f0" stroke-width="0.35" font-family="'Liberation Sans', sans-serif">58</text>
<line x1="457.6" y1="22.9" x2="457.6" y2="310.1" stroke="#e8141c" stroke-width="1.8"/>
<line x1="457.6" y1="23.8" x2="463.6" y2="23.8" stroke="#e8141c" stroke-width="1.6"/>
<text x="468.8" y="28.8" font-size="16" fill="#e8141c" stroke="#e8141c" stroke-width="0.35" font-family="'Liberation Sans', sans-serif">1100</text>
<line x1="457.6" y1="52.3" x2="460.8" y2="52.3" stroke="#e8141c" stroke-width="1.6"/>
<line x1="457.6" y1="80.9" x2="463.6" y2="80.9" stroke="#e8141c" stroke-width="1.6"/>
<text x="468.8" y="85.9" font-size="16" fill="#e8141c" stroke="#e8141c" stroke-width="0.35" font-family="'Liberation Sans', sans-serif">1000</text>
<line x1="457.6" y1="109.4" x2="460.8" y2="109.4" stroke="#e8141c" stroke-width="1.6"/>
<line x1="457.6" y1="138.0" x2="463.6" y2="138.0" stroke="#e8141c" stroke-width="1.6"/>
<text x="468.8" y="143.0" font-size="16" fill="#e8141c" stroke="#e8141c" stroke-width="0.35" font-family="'Liberation Sans', sans-serif">900</text>
<line x1="457.6" y1="166.5" x2="460.8" y2="166.5" stroke="#e8141c" stroke-width="1.6"/>
<line x1="457.6" y1="195.0" x2="463.6" y2="195.0" stroke="#e8141c" stroke-width="1.6"/>
<text x="468.8" y="200.0" font-size="16" fill="#e8141c" stroke="#e8141c" stroke-width="0.35" font-family="'Liberation Sans', sans-serif">800</text>
<line x1="457.6" y1="223.6" x2="460.8" y2="223.6" stroke="#e8141c" stroke-width="1.6"/>
<line x1="457.6" y1="252.1" x2="463.6" y2="252.1" stroke="#e8141c" stroke-width="1.6"/>
<text x="468.8" y="257.1" font-size="16" fill="#e8141c" stroke="#e8141c" stroke-width="0.35" font-family="'Liberation Sans', sans-serif">700</text>
<line x1="457.6" y1="280.7" x2="460.8" y2="280.7" stroke="#e8141c" stroke-width="1.6"/>
<line x1="457.6" y1="309.2" x2="463.6" y2="309.2" stroke="#e8141c" stroke-width="1.6"/>
<text x="468.8" y="314.2" font-size="16" fill="#e8141c" stroke="#e8141c" stroke-width="0.35" font-family="'Liberation Sans', sans-serif">600</text>
<line x1="509.2" y1="22.9" x2="509.2" y2="310.1" stroke="#111" stroke-width="1.8"/>
<line x1="509.2" y1="23.8" x2="515.2" y2="23.8" stroke="#111" stroke-width="1.6"/>
<text x="519.0" y="28.8" font-size="16" fill="#111" stroke="#111" stroke-width="0.35" font-family="'Liberation Sans', sans-serif">500</text>
<line x1="509.2" y1="59.5" x2="512.4" y2="59.5" stroke="#111" stroke-width="1.6"/>
<line x1="509.2" y1="95.1" x2="515.2" y2="95.1" stroke="#111" stroke-width="1.6"/>
<text x="519.0" y="100.1" font-size="16" fill="#111" stroke="#111" stroke-width="0.35" font-family="'Liberation Sans', sans-serif">400</text>
<line x1="509.2" y1="130.8" x2="512.4" y2="130.8" stroke="#111" stroke-width="1.6"/>
<line x1="509.2" y1="166.5" x2="515.2" y2="166.5" stroke="#111" stroke-width="1.6"/>
<text x="519.0" y="171.5" font-size="16" fill="#111" stroke="#111" stroke-width="0.35" font-family="'Liberation Sans', sans-serif">300</text>
<line x1="509.2" y1="202.2" x2="512.4" y2="202.2" stroke="#111" stroke-width="1.6"/>
<line x1="509.2" y1="237.8" x2="515.2" y2="237.8" stroke="#111" stroke-width="1.6"/>
<text x="519.0" y="242.8" font-size="16" fill="#111" stroke="#111" stroke-width="0.35" font-family="'Liberation Sans', sans-serif">200</text>
<line x1="509.2" y1="273.5" x2="512.4" y2="273.5" stroke="#111" stroke-width="1.6"/>
<line x1="509.2" y1="309.2" x2="515.2" y2="309.2" stroke="#111" stroke-width="1.6"/>
<text x="519.0" y="314.2" font-size="16" fill="#111" stroke="#111" stroke-width="0.35" font-family="'Liberation Sans', sans-serif">100</text>
<line x1="35.5" y1="32.5" x2="68.4" y2="32.5" stroke="#0000e6" stroke-width="2"/>
<text x="72.8" y="37.0" font-size="14.6" fill="#111" stroke="#111" stroke-width="0.25" font-family="'Liberation Sans', sans-serif">RH (%)</text>
<line x1="35.5" y1="50.2" x2="68.4" y2="50.2" stroke="#e8101a" stroke-width="2"/>
<text x="72.8" y="54.7" font-size="14.6" fill="#111" stroke="#111" stroke-width="0.25" font-family="'Liberation Sans', sans-serif">LCL (m)</text>
<line x1="35.5" y1="69.9" x2="68.4" y2="69.9" stroke="#000" stroke-width="2"/>
<text x="72.8" y="74.8" font-size="14.6" fill="#111" stroke="#111" stroke-width="0.25" font-family="'Liberation Sans', sans-serif">Ins (W m<tspan dy="-4.8" font-size="10">-2</tspan><tspan dy="4.8">)</tspan></text>
</svg>
</body></html>
